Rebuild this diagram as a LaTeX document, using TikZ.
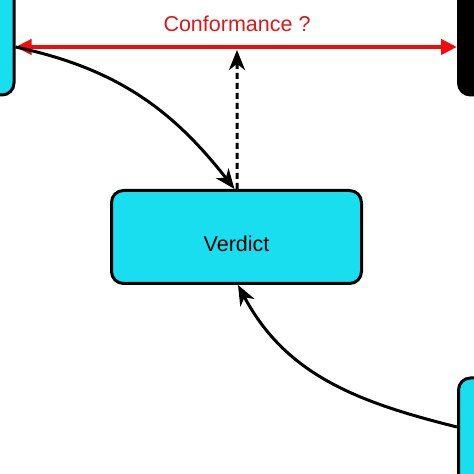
\documentclass[tikz,border=0pt]{standalone}
\usepackage{fontspec}
\setmainfont{Liberation Sans}
\usetikzlibrary{arrows.meta,calc}
\definecolor{boxcyan}{RGB}{24,222,240}
\definecolor{linered}{RGB}{240,12,12}
\definecolor{textred}{RGB}{215,25,25}
\tikzset{
  box/.style={draw=black, line width=3bp, rounded corners=12bp, fill=boxcyan, inner sep=0pt},
  darkbox/.style={box, fill=black},
  redarrow/.style={draw=linered, line width=4.2bp, {Triangle[length=16bp,width=15bp]}-{Triangle[length=16bp,width=15bp]}},
  flow/.style={draw=black, line width=3bp, -{Stealth[length=20bp,width=16bp,inset=6bp]}},
  probe/.style={flow, dash pattern=on 6bp off 4bp},
  lbl/.style={font=\fontsize{21.5bp}{26bp}\selectfont, inner sep=0pt}
}
\begin{document}
\begin{tikzpicture}[x=1bp,y=1bp]
\path[use as bounding box, clip] (0,0) rectangle (474,474);
% boxes
\node[box, minimum width=100bp, minimum height=140bp] (src) at (-36,449) {};
\node[darkbox, minimum width=100bp, minimum height=140bp] (tgt) at (508.5,449) {};
\node[box, minimum width=100bp, minimum height=140bp] (impl) at (508.5,26) {};
\node[box, minimum width=250bp, minimum height=93bp] (verdict) at (236.5,237) {};
\node[lbl] (vlabel) at ($(verdict.center)+(0,-7)$) {Verdict};
% red conformance arrow
\coordinate (lvl) at (237,427);
\draw[redarrow] (src.east |- lvl) -- (tgt.west |- lvl);
\node[lbl, text=textred] (conf) at (237,450) {Conformance ?};
% dashed probe
\coordinate (probetop) at (237,424);
\draw[probe] ($(verdict.north)+(0.5,0)$) -- (probetop);
% curved arrows
\draw[flow] (src.east |- lvl) to[out=-12, in=128] ($(verdict.north)+(-2,0)$);
\draw[flow] ($(impl.west)+(0,21)$) to[out=166, in=-62] ($(verdict.south)+(1.5,0)$);
\end{tikzpicture}
\end{document}
